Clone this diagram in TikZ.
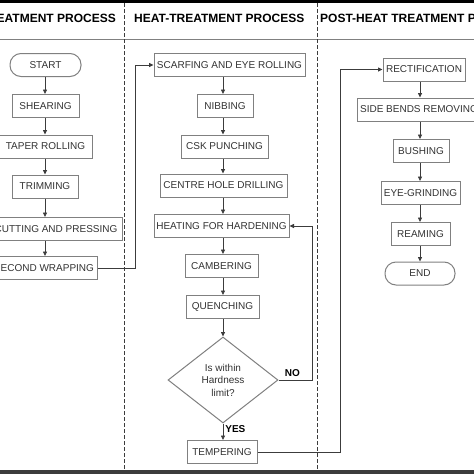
\documentclass[tikz,border=0pt]{standalone}
\usepackage{fontspec}
\setmainfont{Liberation Sans}
\usetikzlibrary{shapes.geometric,arrows.meta}
\definecolor{boxgray}{HTML}{808080}
\definecolor{linegray}{HTML}{3C3C3C}
\definecolor{txtgray}{HTML}{333333}

\begin{document}
\begin{tikzpicture} %process flow chart
		[x=1pt,y=-1pt,
		proc/.style={draw=boxgray,line width=1pt,text=txtgray,font=\fontsize{10}{12}\selectfont,minimum height=23pt,inner sep=2pt},
		term/.style={proc,rounded corners=11pt},
		flow/.style={draw=linegray,line width=0.8pt,-{Triangle[length=4.5pt,width=4pt]}},
		lane/.style={draw=linegray,line width=0.8pt,dash pattern=on 4pt off 2pt},
		head/.style={font=\fontsize{12}{14}\selectfont\bfseries,text=black,inner sep=0pt},
		answer/.style={font=\fontsize{10}{12}\selectfont\bfseries,text=black,inner sep=1pt}]
	\useasboundingbox (0,0) rectangle (474,474);
	\clip (0,0) rectangle (474,474);
	\fill[white] (0,0) rectangle (474,474);

	%draw the frame and the lanes
	\fill[black] (0,0) rectangle (474,3);
	\fill[linegray] (0,470) rectangle (474,474);
	\draw[boxgray,line width=1pt] (0,39) -- (474,39);
	\draw[lane] (124,3) -- (124,470);
	\draw[lane] (317,3) -- (317,470);

	\node[head,anchor=east] (prehead) at (116,18) {PRE-HEAT TREATMENT PROCESS};
	\node[head,anchor=west] (heathead) at (134,18) {HEAT-TREATMENT PROCESS};
	\node[head,anchor=west] (posthead) at (320,18) {POST-HEAT TREATMENT PROCESS};

	%columns of the arrows
	\coordinate (prex) at (45,0);
	\coordinate (heatx) at (223,0);
	\coordinate (postx) at (420,0);

	%pre-heat treatment steps
	\node[term,minimum width=71pt] (start) at (45.5,65) {START};
	\node[proc,minimum width=67pt] (shear) at (45.5,106) {SHEARING};
	\node[proc,minimum width=93pt] (taper) at (45.5,146.5) {TAPER ROLLING};
	\node[proc,minimum width=66pt] (trim) at (45,186.5) {TRIMMING};
	\node[proc,minimum width=132pt] (cut) at (56,229) {CUTTING AND PRESSING};
	\node[proc,minimum width=106pt] (wrap) at (44,268) {SECOND WRAPPING};

	%heat treatment steps
	\node[proc,minimum width=151pt] (scarf) at (229.5,65) {SCARFING AND EYE ROLLING};
	\node[proc,minimum width=56pt] (nib) at (225,106) {NIBBING};
	\node[proc,minimum width=87pt] (csk) at (224.5,146.5) {CSK PUNCHING};
	\node[proc,minimum width=127pt] (drill) at (223.5,185.5) {CENTRE HOLE DRILLING};
	\node[proc,minimum width=135pt] (heat) at (221.5,226) {HEATING FOR HARDENING};
	\node[proc,minimum width=73pt] (camb) at (221.5,266) {CAMBERING};
	\node[proc,minimum width=73pt] (quench) at (222.5,307) {QUENCHING};
	\node[diamond,draw=boxgray,line width=1pt,text=txtgray,align=center,
		font=\fontsize{10}{12.5}\selectfont,minimum width=110pt,minimum height=86pt,
		inner sep=0pt] (hard) at (223,380) {Is within\\Hardness\\limit?};
	\node[proc,minimum width=70pt] (temper) at (222,452) {TEMPERING};

	%post-heat treatment steps
	\node[proc,minimum width=82pt] (rect) at (424,69.5) {RECTIFICATION};
	\node[proc,minimum width=124pt] (side) at (419,109.5) {SIDE BENDS REMOVING};
	\node[proc,minimum width=56pt] (bush) at (421,151) {BUSHING};
	\node[proc,minimum width=79pt] (grind) at (420.5,193) {EYE-GRINDING};
	\node[proc,minimum width=59pt] (ream) at (420.5,234) {REAMING};
	\node[term,minimum width=70pt] (fin) at (420,273.5) {END};

	%draw the arrows
	\draw[flow] (start.south -| prex) -- (shear.north -| prex);
	\draw[flow] (shear.south -| prex) -- (taper.north -| prex);
	\draw[flow] (taper.south -| prex) -- (trim.north -| prex);
	\draw[flow] (trim.south -| prex) -- (cut.north -| prex);
	\draw[flow] (cut.south -| prex) -- (wrap.north -| prex);
	\draw[flow] (wrap.east) -- ++(38,0) |- (scarf.west);

	\draw[flow] (scarf.south -| heatx) -- (nib.north -| heatx);
	\draw[flow] (nib.south -| heatx) -- (csk.north -| heatx);
	\draw[flow] (csk.south -| heatx) -- (drill.north -| heatx);
	\draw[flow] (drill.south -| heatx) -- (heat.north -| heatx);
	\draw[flow] (heat.south -| heatx) -- (camb.north -| heatx);
	\draw[flow] (camb.south -| heatx) -- (quench.north -| heatx);
	\draw[flow] (quench.south -| heatx) -- (hard.north);
	\draw[flow] (hard.south) -- node[answer,right,pos=0.35,xshift=1pt] (yes) {YES} (temper.north -| hard);
	\draw[flow] (hard.east) -- node[answer,above,pos=0.41,yshift=2pt] (no) {NO} ++(34,0) |- (heat.east);
	\draw[flow] (temper.east) -- ++(83,0) |- (rect.west);

	\draw[flow] (rect.south -| postx) -- (side.north -| postx);
	\draw[flow] (side.south -| postx) -- (bush.north -| postx);
	\draw[flow] (bush.south -| postx) -- (grind.north -| postx);
	\draw[flow] (grind.south -| postx) -- (ream.north -| postx);
	\draw[flow] (ream.south -| postx) -- (fin.north -| postx);
\end{tikzpicture}
\end{document}
